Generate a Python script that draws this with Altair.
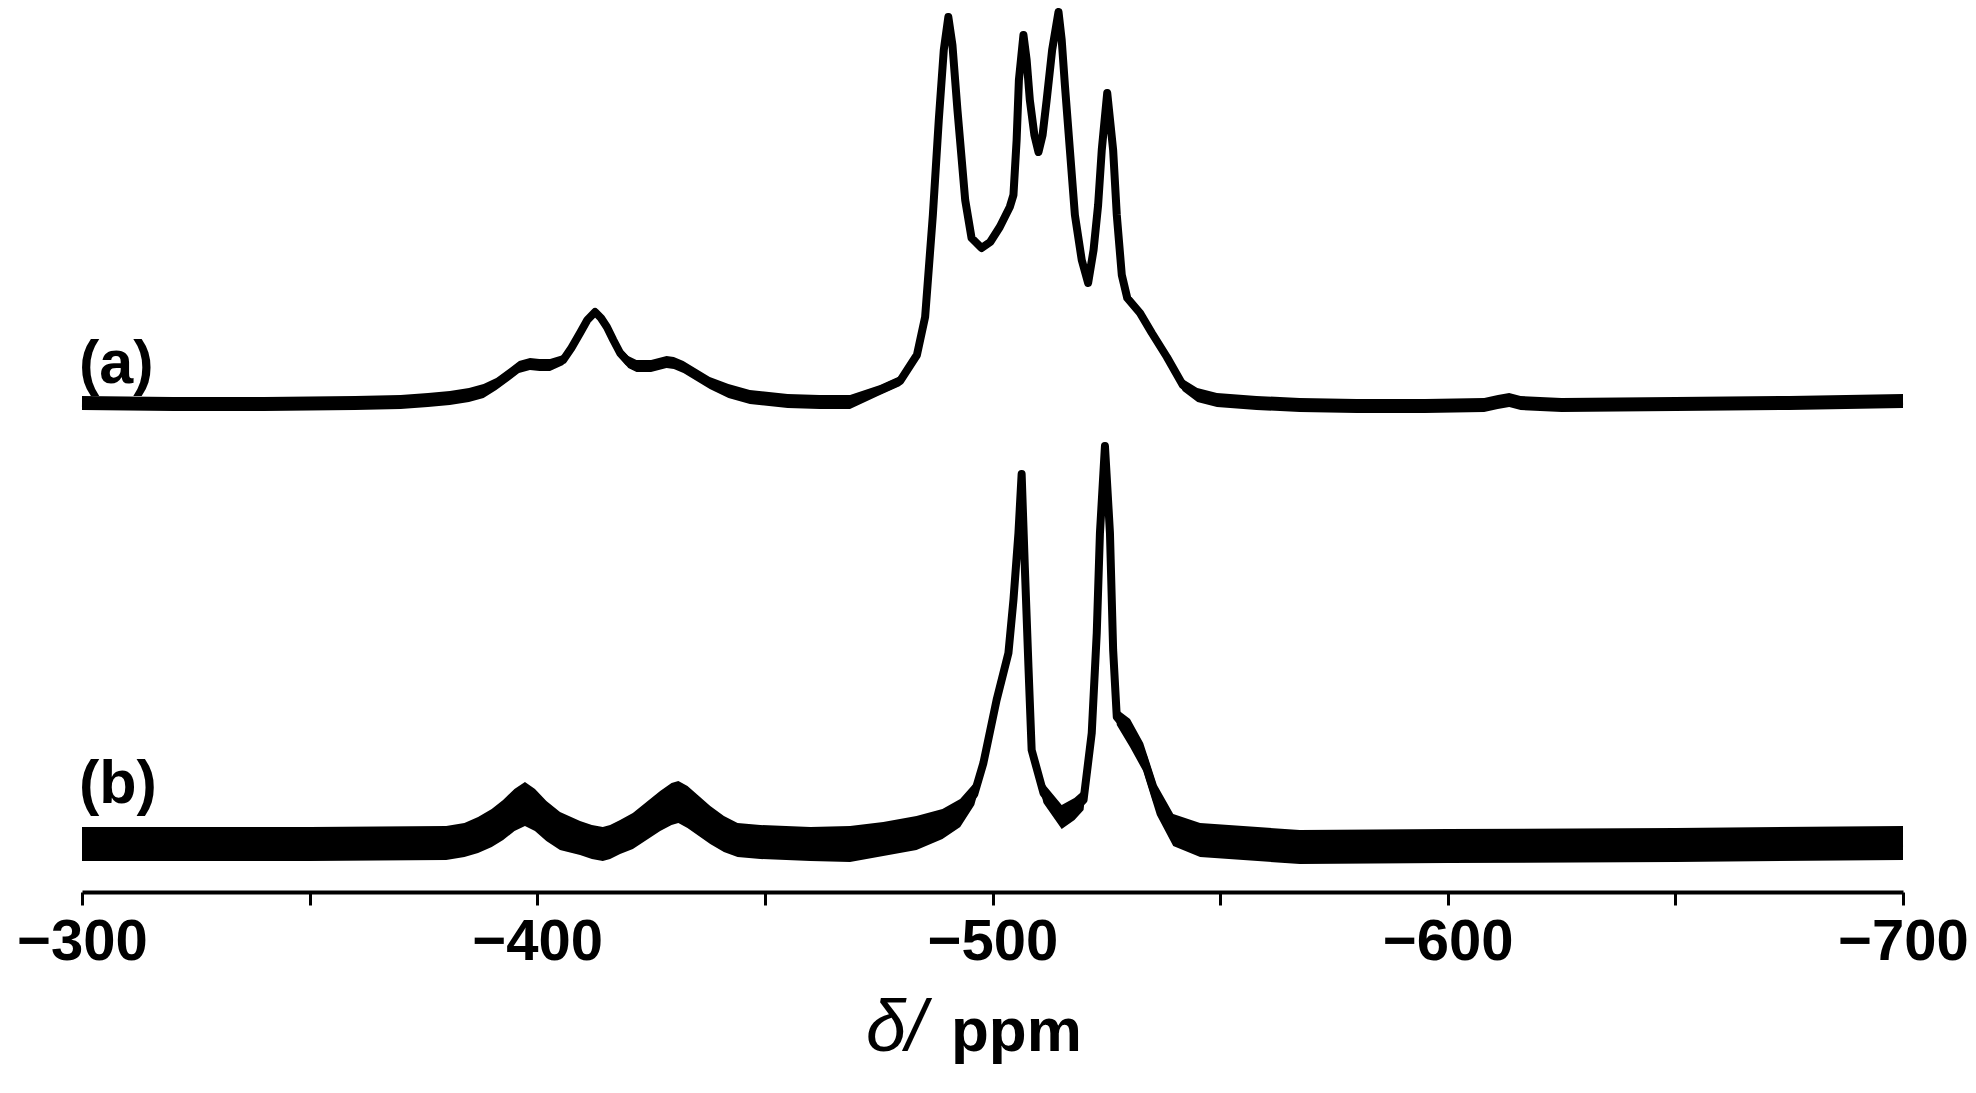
import altair as alt
import pandas as pd

# ---- Trace (a): chemical shift (ppm), intensity (a.u.), noise half-width (a.u.)
ppm_a = [-300, -320, -340, -360, -370, -376, -380.8, -385, -388.2, -391, -394, -396, -398.4,
         -400.5, -402.8, -405.7, -407.5, -409.4, -411, -412.7, -414, -415.3, -416.7, -418.2,
         -420, -421.8, -425, -428.4, -430, -432.1, -435, -437.9, -442, -446.7, -455, -462,
         -468.7, -475.3, -479.7, -483.4, -485.2, -486.9, -488.2, -489.3, -490.3, -491.2,
         -492.3, -494.0, -495.4, -497.6, -499.5, -501.6, -503.8, -504.6, -505.3, -505.8,
         -506.8, -507.5, -508.2, -509.2, -510.1, -511.0, -511.9, -513.1, -514.5, -515.2,
         -515.9, -517.0, -518.1, -519.6, -521.0, -522.2, -523.2, -524.0, -525.2, -526.5,
         -527.3, -528.4, -529.6, -532.4, -535, -538.3, -541.8, -545, -549.3, -558, -567.5,
         -580, -595, -608, -611, -613.5, -616, -625, -650, -675, -700]
int_a = [0.0, -0.1, -0.1, 0.0, 0.1, 0.3, 0.5, 0.8, 1.2, 1.9, 2.9, 3.6, 3.9,
         3.8, 3.8, 4.3, 5.5, 7.0, 8.3, 9.1, 8.5, 7.6, 6.3, 5.0,
         4.1, 3.7, 3.7, 4.1, 4.0, 3.6, 2.8, 2.0, 1.2, 0.6, 0.2, 0.1,
         0.1, 1.3, 2.2, 4.8, 8.6, 18.8, 28.3, 35.3, 38.6, 35.8,
         29.3, 20.3, 16.5, 15.5, 16.1, 17.6, 19.6, 20.8, 26.3, 32.3,
         36.8, 34.3, 30.3, 26.8, 25.1, 26.8, 30.3, 35.3, 39.1, 36.3,
         31.8, 25.3, 18.8, 14.3, 12.0, 15.3, 19.8, 25.3, 31.0, 25.3,
         18.8, 12.8, 10.5, 9.0, 7.0, 4.6, 1.8, 0.8, 0.3, 0.0, -0.2,
         -0.3, -0.3, -0.2, 0.1, 0.3, 0.0, -0.2, -0.1, 0.0, 0.2]
noise_a = [0.7, 0.7, 0.7, 0.7, 0.7, 0.7, 0.7, 0.7, 0.7, 0.6, 0.6, 0.6, 0.6,
           0.6, 0.6, 0.5, 0.4, 0.4, 0.4, 0.4, 0.4, 0.4, 0.4, 0.5,
           0.6, 0.6, 0.6, 0.6, 0.6, 0.6, 0.6, 0.6, 0.7, 0.7, 0.7, 0.7,
           0.7, 0.5, 0.5, 0.4, 0.3, 0.2, 0.2, 0.2, 0.2, 0.2,
           0.2, 0.2, 0.3, 0.4, 0.4, 0.4, 0.3, 0.3, 0.2, 0.2,
           0.2, 0.2, 0.2, 0.2, 0.2, 0.2, 0.2, 0.2, 0.2, 0.2,
           0.2, 0.2, 0.2, 0.3, 0.3, 0.2, 0.2, 0.2, 0.2, 0.2,
           0.2, 0.3, 0.4, 0.5, 0.5, 0.5, 0.6, 0.7, 0.7, 0.7, 0.7,
           0.7, 0.7, 0.7, 0.7, 0.7, 0.7, 0.7, 0.7, 0.7, 0.7]

# ---- Trace (b)
ppm_b = [-300, -325, -350, -380, -384, -387, -390, -392.5, -395, -397.3, -399.5, -402,
         -405, -409.4, -412, -414.4, -416, -418.2, -421, -424, -427, -429.5, -431, -433,
         -435.5, -438, -441, -444, -449, -460, -468.7,
         -476, -483.3, -489, -492.9, -496, -498.0, -500.9, -503.5, -504.6, -505.7, -506.4,
         -507.1, -507.9, -508.6, -511.2, -515.2, -518, -520.0, -521.8, -522.9, -523.6,
         -524.7, -525.8, -526.5, -527.3, -530.2, -533.1, -536.1, -539.7, -545.6, -567.5,
         -600, -650, -700]
int_b = [0.0, 0.0, 0.0, 0.1, 0.4, 0.9, 1.6, 2.4, 3.4, 4.0, 3.4, 2.3,
         1.3, 0.6, 0.2, 0.0, 0.2, 0.7, 1.3, 2.3, 3.3, 4.0, 4.2, 3.7,
         2.8, 1.9, 1.0, 0.4, 0.2, 0.0, 0.0,
         0.5, 1.1, 2.0, 3.1, 5.0, 8.1, 14.4, 19.1, 24.4, 31.1, 37.0,
         27.7, 17.7, 9.4, 5.1, 2.7, 3.5, 4.4, 11.1, 21.1, 31.1,
         39.8, 31.1, 19.4, 12.7, 11.1, 8.7, 4.4, 1.4, 0.4, -0.3,
         -0.2, -0.1, 0.1]
noise_b = [1.7, 1.7, 1.7, 1.7, 1.7, 1.8, 1.9, 2.0, 2.1, 2.2, 2.1, 2.0,
           1.9, 1.7, 1.7, 1.7, 1.7, 1.7, 1.8, 1.9, 2.0, 2.1, 2.1, 2.1,
           2.0, 1.9, 1.8, 1.7, 1.7, 1.7, 1.8,
           1.7, 1.7, 1.5, 1.4, 1.1, 0.9, 0.7, 0.5, 0.4, 0.3, 0.3,
           0.3, 0.3, 0.5, 1.0, 1.2, 1.1, 1.0, 0.5, 0.3, 0.3,
           0.3, 0.3, 0.4, 0.8, 1.4, 1.4, 1.5, 1.6, 1.7, 1.7,
           1.7, 1.7, 1.7]

offsets = {"a": 48.9, "b": 4.8}
tick_values = [-300, -350, -400, -450, -500, -550, -600, -650, -700]

rows = []
for name, pp, ii, nn in (("a", ppm_a, int_a, noise_a), ("b", ppm_b, int_b, noise_b)):
    for p, i, n in zip(pp, ii, nn):
        rows.append({"trace": name, "ppm": p, "intensity": i, "noise": n, "offset": offsets[name]})
df = pd.DataFrame(rows)

W, H = 1821, 884
FONT = "Liberation Sans"
x_scale = alt.Scale(domain=[-300, -700], nice=False, zero=False)

x_enc = alt.X("ppm:Q", scale=x_scale,
              axis=alt.Axis(values=tick_values, title=None,
                            labelExpr="datum.value % 100 == 0 ? format(datum.value, 'd') : ''",
                            labelFont=FONT, labelFontSize=58, labelFontWeight="bold",
                            labelColor="black", labelPadding=8, labelFlush=False,
                            labelOverlap=False,
                            tickSize=13, tickWidth=3, tickColor="black",
                            domainWidth=4, domainColor="black", grid=False))
y_scale = alt.Scale(domain=[0, 88.4], nice=False, zero=False)

base = alt.Chart(df).transform_calculate(
    c="datum.intensity + datum.offset",
    lo="datum.intensity + datum.offset - datum.noise",
    hi="datum.intensity + datum.offset + datum.noise",
)

band = base.mark_area(color="black", opacity=1).encode(
    x=x_enc,
    y=alt.Y("lo:Q", scale=y_scale, axis=None),
    y2="hi:Q",
    detail="trace:N",
)
line = base.mark_line(color="black", strokeWidth=8, strokeJoin="round").encode(
    x=alt.X("ppm:Q", scale=x_scale),
    y=alt.Y("c:Q", scale=y_scale, axis=None),
    detail="trace:N",
)

lab_a = alt.Chart(pd.DataFrame({"t": ["(a)"]})).mark_text(
    font=FONT, fontSize=61, fontWeight="bold", align="left", baseline="middle", color="black"
).encode(text="t:N", x=alt.value(-3), y=alt.value(357))
lab_b = alt.Chart(pd.DataFrame({"t": ["(b)"]})).mark_text(
    font=FONT, fontSize=61, fontWeight="bold", align="left", baseline="middle", color="black"
).encode(text="t:N", x=alt.value(-3), y=alt.value(777))

title_d = alt.Chart(pd.DataFrame({"t": ["δ/"]})).mark_text(
    font=FONT, fontSize=72, fontStyle="italic", align="right", baseline="alphabetic", color="black"
).encode(text="t:N", x=alt.value(844), y=alt.value(1043))
title_p = alt.Chart(pd.DataFrame({"t": ["ppm"]})).mark_text(
    font=FONT, fontSize=62, fontWeight="bold", align="left", baseline="alphabetic", color="black"
).encode(text="t:N", x=alt.value(869), y=alt.value(1043))

chart = alt.layer(band, line, lab_a, lab_b, title_d, title_p).properties(
    width=W, height=H,
    background="white",
    autosize=alt.AutoSizeParams(type="none"),
    padding={"left": 74, "top": 0, "right": 65, "bottom": 190},
).configure_view(strokeWidth=0, stroke="transparent")

chart.save("out.html", embed_options={"renderer": "svg", "actions": False})
